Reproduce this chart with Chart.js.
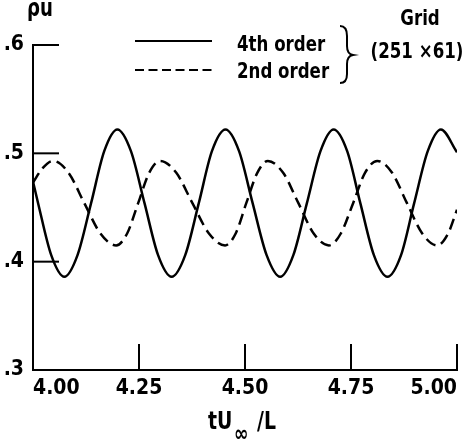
<!DOCTYPE html>
<html lang="en">
  <head>
    <meta charset="UTF-8" />
    <title>rho u vs time</title>
    <script src="https://cdn.jsdelivr.net/npm/chart.js"></script>
    <style>
      body {
        margin: 0;
        background: #fff;
      }
      #wrap {
        width: 474px;
        height: 445px;
      }
    </style>
  </head>
  <body>
    <div id="wrap">
      <canvas id="rhoChart" width="474" height="445"></canvas>
    </div>

    <script>
      const FONT = '"DejaVu Sans Condensed", "DejaVu Sans", sans-serif';

      // 4th order scheme
      const fourthT = [
        4.000, 4.012, 4.043, 4.074, 4.105, 4.137, 4.168, 4.199, 4.231, 4.263,
        4.295, 4.327, 4.359, 4.391, 4.422, 4.454, 4.486, 4.518, 4.551, 4.583,
        4.614, 4.646, 4.678, 4.709, 4.741, 4.772, 4.804, 4.836, 4.868, 4.899,
        4.931, 4.962, 5.000,
      ];
      const fourthRhoU = [
        0.474, 0.454, 0.406, 0.386, 0.406, 0.454, 0.502, 0.522, 0.502, 0.454,
        0.406, 0.386, 0.406, 0.454, 0.502, 0.522, 0.502, 0.454, 0.406, 0.386,
        0.406, 0.454, 0.502, 0.522, 0.502, 0.454, 0.406, 0.386, 0.406, 0.454,
        0.502, 0.522, 0.501,
      ];

      // 2nd order scheme
      const secondT = [
        4.000, 4.022, 4.047, 4.084, 4.121, 4.159, 4.196, 4.222, 4.248, 4.274,
        4.300, 4.338, 4.376, 4.415, 4.453, 4.478, 4.503, 4.529, 4.554, 4.590,
        4.626, 4.662, 4.698, 4.726, 4.755, 4.783, 4.812, 4.847, 4.882, 4.918,
        4.953, 4.979, 5.000,
      ];
      const secondRhoU = [
        0.473, 0.486, 0.493, 0.482, 0.454, 0.426, 0.415, 0.426, 0.454, 0.482,
        0.493, 0.482, 0.454, 0.426, 0.415, 0.426, 0.454, 0.482, 0.493, 0.482,
        0.454, 0.426, 0.415, 0.426, 0.454, 0.482, 0.493, 0.482, 0.454, 0.426,
        0.415, 0.426, 0.448,
      ];

      const xTicks = [4.0, 4.25, 4.5, 4.75, 5.0];
      const yTicks = [0.3, 0.4, 0.5, 0.6];

      function toPoints(xs, ys) {
        return xs.map((x, i) => ({ x: x, y: ys[i] }));
      }

      // condensed text like the old typewriter lettering
      function narrowText(ctx, text, x, y, size, align) {
        const squeeze = 0.84;
        ctx.save();
        ctx.translate(x, y);
        ctx.scale(squeeze, 1);
        ctx.font = "bold " + size + "px " + FONT;
        ctx.textAlign = align || "left";
        ctx.textBaseline = "alphabetic";
        ctx.fillText(text, 0, 0);
        ctx.restore();
      }

      // inward ticks, legend with brace, axis titles
      const paperDecor = {
        id: "paperDecor",
        afterDraw(chart) {
          const ctx = chart.ctx;
          const xs = chart.scales.x;
          const ys = chart.scales.y;
          const left = chart.chartArea.left;
          const bottom = chart.chartArea.bottom;

          ctx.save();
          ctx.strokeStyle = "#000";
          ctx.fillStyle = "#000";
          ctx.lineWidth = 2;

          yTicks.slice(1).forEach((v) => {
            const py = ys.getPixelForValue(v);
            ctx.beginPath();
            ctx.moveTo(left, py);
            ctx.lineTo(left + 26, py);
            ctx.stroke();
          });
          xTicks.slice(1).forEach((v) => {
            const px = xs.getPixelForValue(v);
            ctx.beginPath();
            ctx.moveTo(px, bottom);
            ctx.lineTo(px, bottom - 26);
            ctx.stroke();
          });

          // legend lines
          ctx.beginPath();
          ctx.moveTo(135, 41);
          ctx.lineTo(212, 41);
          ctx.stroke();
          ctx.setLineDash([9, 4.5]);
          ctx.beginPath();
          ctx.moveTo(135, 70);
          ctx.lineTo(212, 70);
          ctx.stroke();
          ctx.setLineDash([]);

          narrowText(ctx, "4th order", 237, 51, 22);
          narrowText(ctx, "2nd order", 237, 78, 22);

          // brace
          ctx.beginPath();
          ctx.moveTo(340, 26);
          ctx.quadraticCurveTo(347, 26, 347, 36);
          ctx.lineTo(347, 46);
          ctx.quadraticCurveTo(347, 54, 353, 55);
          ctx.quadraticCurveTo(347, 56, 347, 64);
          ctx.lineTo(347, 74);
          ctx.quadraticCurveTo(347, 83, 340, 83);
          ctx.stroke();

          narrowText(ctx, "Grid", 420, 25, 22, "center");
          narrowText(ctx, "(251 \u00d761)", 417, 58, 22, "center");

          // y title
          narrowText(ctx, "\u03c1u", 27, 16, 24);

          // x title with subscript
          narrowText(ctx, "tU", 208, 429, 25);
          narrowText(ctx, "\u221e", 234, 441, 23);
          narrowText(ctx, "/L", 257, 429, 25);

          ctx.restore();
        },
      };

      const ctx = document.getElementById("rhoChart").getContext("2d");
      new Chart(ctx, {
        type: "scatter",
        data: {
          datasets: [
            {
              label: "4th order",
              data: toPoints(fourthT, fourthRhoU),
              showLine: true,
              borderColor: "#000",
              borderWidth: 2.5,
              pointRadius: 0,
              cubicInterpolationMode: "monotone",
            },
            {
              label: "2nd order",
              data: toPoints(secondT, secondRhoU),
              showLine: true,
              borderColor: "#000",
              borderWidth: 2.5,
              borderDash: [11, 6],
              pointRadius: 0,
              cubicInterpolationMode: "monotone",
            },
          ],
        },
        options: {
          responsive: false,
          animation: false,
          layout: {
            padding: { top: 45, right: 17, left: 0, bottom: 0 },
          },
          plugins: {
            legend: { display: false },
            tooltip: { enabled: false },
          },
          scales: {
            x: {
              type: "linear",
              min: 4,
              max: 5,
              afterFit: (s) => {
                s.height = 75;
              },
              afterBuildTicks: (s) => {
                s.ticks = xTicks.map((v) => ({ value: v }));
              },
              grid: { display: false, drawTicks: false },
              border: { display: true, color: "#000", width: 2 },
              ticks: {
                color: "#000",
                padding: 6,
                maxRotation: 0,
                align: "inner",
                font: { family: FONT, size: 21, weight: "bold" },
                callback: (v) => Number(v).toFixed(2),
              },
            },
            y: {
              type: "linear",
              min: 0.3,
              max: 0.6,
              afterFit: (s) => {
                s.width = 33;
              },
              afterBuildTicks: (s) => {
                s.ticks = yTicks.map((v) => ({ value: v }));
              },
              grid: { display: false, drawTicks: false },
              border: { display: true, color: "#000", width: 2 },
              ticks: {
                color: "#000",
                padding: 9,
                font: { family: FONT, size: 21, weight: "bold" },
                callback: (v) => Number(v).toFixed(1).replace(/^0/, ""),
              },
            },
          },
        },
        plugins: [paperDecor],
      });
    </script>
  </body>
</html>
